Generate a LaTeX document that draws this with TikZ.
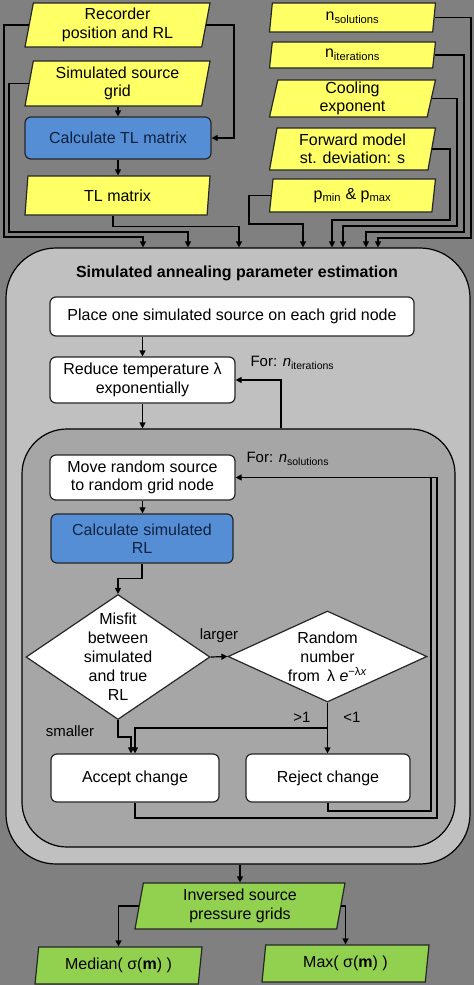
\documentclass[tikz,border=0pt]{standalone}
\usepackage{fontspec}
\setmainfont{Liberation Sans}
\usetikzlibrary{shapes.geometric,arrows.meta}
\definecolor{bgc}{HTML}{808080}
\definecolor{outc}{HTML}{C0C0C0}
\definecolor{innc}{HTML}{A6A6A6}
\definecolor{yel}{HTML}{FFFF66}
\definecolor{grn}{HTML}{92D050}
\definecolor{blu}{HTML}{558ED5}
\definecolor{navy}{HTML}{0F2240}
\begin{document}
\begin{tikzpicture}[x=1pt,y=-1pt,
  txt/.style={font=\fontsize{16}{18.5}\selectfont, align=center},
  para/.style={txt, trapezium, trapezium left angle=76, trapezium right angle=104, trapezium stretches body, draw=black!85, line width=1.2pt, inner sep=0pt},
  ybox/.style={para, fill=yel},
  gbox/.style={para, fill=grn},
  wbox/.style={txt, rectangle, rounded corners=6pt, draw=black!85, line width=1.2pt, fill=white, inner sep=0pt},
  bluebox/.style={wbox, fill=blu, text=navy},
  dia/.style={diamond, draw=black!85, line width=1.2pt, fill=white, inner sep=0pt},
  arr/.style={-{Triangle[length=6pt,width=6pt]}, line width=1.2pt},
  ln/.style={line width=1.2pt},
  lab/.style={font=\fontsize{15}{17}\selectfont},
  dtxt/.style={font=\fontsize{16}{19}\selectfont, align=center}
]
\useasboundingbox (0,0) rectangle (474,985);
\fill[bgc] (0,0) rectangle (474,985);

% top inputs
\node[ybox, minimum width=185pt, minimum height=44pt] (rec) at (117.5,25) {Recorder\\position and RL};
\node[ybox, minimum width=185pt, minimum height=45pt] (grid) at (117.5,83.5) {Simulated source\\grid};
\node[bluebox, minimum width=186pt, minimum height=42pt] (calctl) at (118,138) {Calculate TL matrix};
\node[ybox, minimum width=185pt, minimum height=39pt] (tlm) at (117.5,195.5) {TL matrix};
\node[ybox, minimum width=166pt, minimum height=29pt] (nsol) at (352.5,17.5) {n\textsubscript{solutions}};
\node[ybox, minimum width=166pt, minimum height=26pt] (nit) at (352.5,55) {n\textsubscript{iterations}};
\node[ybox, minimum width=166pt, minimum height=37pt] (cool) at (352.5,98.5) {Cooling\\exponent};
\node[ybox, minimum width=166pt, minimum height=42pt] (fwd) at (352.5,149) {Forward model\\st. deviation: s};
\node[ybox, minimum width=166pt, minimum height=33pt] (pmm) at (352.5,195.5) {p\textsubscript{min} \& p\textsubscript{max}};

% outer box
\node[draw=black, line width=1.2pt, fill=outc, rounded corners=50pt, minimum width=464pt, minimum height=616pt, inner sep=0pt] (outer) at (238,556) {};
\node[font=\bfseries\fontsize{16}{18}\selectfont] (title) at (237,273) {Simulated annealing parameter estimation};
\node[wbox, minimum width=364pt, minimum height=39pt] (place) at (232,316.5) {Place one simulated source on each grid node};
\node[wbox, minimum width=185pt, minimum height=46pt] (reduce) at (142.5,380) {Reduce temperature λ\\exponentially};

% inner box
\node[draw=black, line width=1.2pt, fill=innc, rounded corners=45pt, minimum width=433pt, minimum height=418pt, inner sep=0pt] (inner) at (238.5,638) {};
\node[wbox, minimum width=185pt, minimum height=45pt] (move) at (142.5,477.5) {Move random source\\to random grid node};
\node[bluebox, minimum width=182pt, minimum height=49pt] (calcsim) at (142,538.5) {Calculate simulated\\RL};
\node[dia, minimum width=184pt, minimum height=125pt] (d1) at (118,657) {};
\node[dtxt] (d1t) at (118,657) {Misfit\\between\\simulated\\and true\\RL};
\node[dia, minimum width=199pt, minimum height=91pt] (d2) at (327.5,656.5) {};
\node[dtxt] (d2t) at (327.5,657) {Random\\number\\from \,λ \textit{e}\textsuperscript{−λ\textit{x}}};
\node[wbox, minimum width=168pt, minimum height=48pt] (accept) at (135,778) {Accept change};
\node[wbox, minimum width=164pt, minimum height=48pt] (reject) at (328,778) {Reject change};

% outputs
\node[gbox, minimum width=210pt, minimum height=46pt] (inv) at (240,906) {Inversed source\\pressure grids};
\node[gbox, minimum width=167pt, minimum height=37pt] (median) at (118.5,965.5) {Median( σ(\textbf{m}) )};
\node[gbox, minimum width=167pt, minimum height=37pt] (maxn) at (345.5,963.5) {Max( σ(\textbf{m}) )};

% labels
\node[lab, anchor=west] (forit) at (247,363) {For: \textit{n}\textsubscript{iterations}};
\node[lab, anchor=west] (forsol) at (243,459) {For: \textit{n}\textsubscript{solutions}};
\node[lab] (larger) at (219,636) {larger};
\node[lab] (gt) at (302,717) {>1};
\node[lab] (lt) at (352,717) {<1};
\node[lab] (smaller) at (70,731) {smaller};

% connectors top
\draw[arr] (rec.left side) -| (4,237) -| (143,0 |- outer.north);
\draw[arr] (rec.right side) -| (234,138) -- (calctl.east);
\draw[arr] (grid.left side) -| (9,232) -| (188,0 |- outer.north);
\draw[arr] (calctl.north |- grid.bottom side) -- (calctl.north);
\draw[arr] (calctl.south) -- (calctl.south |- tlm.top side);
\draw[arr] (113,0 |- tlm.bottom side) -- ++(0,11) -| (239,0 |- outer.north);
\draw[arr] (nsol.right side) -| (471,238) -| (378,0 |- outer.north);
\draw[arr] (nit.right side) -| (464,232) -| (366,0 |- outer.north);
\draw[arr] (cool.right side) -| (457,226) -| (343,0 |- outer.north);
\draw[arr] (fwd.right side) -| (450,220) -| (332,0 |- outer.north);
\draw[arr] (pmm.left side) -| (249,224) -| (303,0 |- outer.north);

% connectors inside
\draw[arr] (reduce.north |- place.south) -- (reduce.north);
\draw[arr] (reduce.south) -- (reduce.south |- inner.north);
\draw[arr] (281,0 |- inner.north) |- (reduce.east);
\draw[arr] (move.south) -- (move.south |- calcsim.north);
\draw[arr] (calcsim.south) -- ++(0,15) -| (d1.north);
\draw[arr] (d1.east) -- (d2.west);
\draw[arr] (d2.south) -- (d2.south |- reject.north);
\draw[arr] (d2.south |- 0,728) -| (accept.north);
\draw[arr] (d1.south) |- (131,737) -- (131,0 |- accept.north);
\draw[arr] (accept.south) |- (437,818) |- (move.east);
\draw[ln] (reject.south) |- (431,811) -- (431,0 |- move.east);

% connectors bottom
\draw[arr] (inv.north |- outer.south) -- (inv.north);
\draw[arr] (inv.left side) -| (median.north);
\draw[arr] (inv.right side) -| (maxn.north);
\end{tikzpicture}
\end{document}
